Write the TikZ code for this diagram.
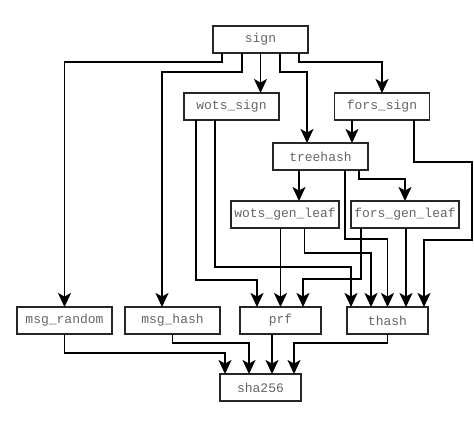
\documentclass[tikz,border=0pt]{standalone}
\usepackage{fontspec}
\setmonofont{Liberation Mono}
\usetikzlibrary{arrows.meta}
\usetikzlibrary{positioning}

\begin{document}
\begin{tikzpicture}[
x=1pt, y=1pt,
>={Stealth[length=14pt, width=13pt, inset=3.5pt]},
line width=1.9pt,
boxnode/.style={rectangle, draw=black!85, fill=white, line width=1.9pt, minimum width=95pt, minimum height=27pt, outer sep=0pt, inner sep=2pt, font=\ttfamily\fontsize{13}{15}\selectfont, text=black!60},
wideboxnode/.style={boxnode, minimum width=108pt},
smallboxnode/.style={boxnode, minimum width=81pt},
]
\useasboundingbox (-260.5,39.5) rectangle (213.5,-389.5);
%Nodes
\node[boxnode]      (sign_node)  at (0,0) {sign};
\node[boxnode]      (wots_sign_node)      [below=40pt of sign_node, xshift=-29pt] {wots\_sign};
\node[boxnode]      (fors_sign_node)      [below=40pt of sign_node, xshift=121.5pt] {fors\_sign};
\node[boxnode]      (treehash_node)       [below=23pt of fors_sign_node, xshift=-61.5pt] {treehash};
\node[wideboxnode]  (wots_gen_leaf_node)  [below=31pt of treehash_node, xshift=-35.5pt] {wots\_gen\_leaf};
\node[wideboxnode]  (fors_gen_leaf_node)  [right=12pt of wots_gen_leaf_node] {fors\_gen\_leaf};
\node[smallboxnode] (prf_node)            [below=79pt of wots_gen_leaf_node, xshift=-4.5pt] {prf};
\node[smallboxnode] (thash_node)          [right=26pt of prf_node] {thash};
\node[boxnode]      (msg_hash_node)       [left=20pt of prf_node] {msg\_hash};
\node[boxnode]      (msg_random_node)     [left=13pt of msg_hash_node] {msg\_random};
\node[smallboxnode] (sha256_node)         [below=40pt of prf_node, xshift=-20pt] {sha256};

%Lines from sign
\draw[->] ([xshift=-38.5pt]sign_node.south) -- ++(0,-9) -| (msg_random_node.north);
\draw[->] ([xshift=-18.5pt]sign_node.south) -- ++(0,-19) -| ([xshift=-10.5pt]msg_hash_node.north);
\draw[->] (sign_node.south) -- (sign_node.south |- wots_sign_node.north);
\draw[->] ([xshift=19.5pt]sign_node.south) -- ++(0,-19) -| ([xshift=-13.5pt]treehash_node.north);
\draw[->] ([xshift=38.5pt]sign_node.south) -- ++(0,-9) -| (fors_sign_node.north);

%Lines from wots_sign and fors_sign
\draw[->] ([xshift=-35.5pt]wots_sign_node.south) -- ++(0,-160) -| ([xshift=-23.5pt]prf_node.north);
\draw[->] ([xshift=-16.5pt]wots_sign_node.south) -- ++(0,-147) -| ([xshift=-36.5pt]thash_node.north);
\draw[->] ([xshift=-30pt]fors_sign_node.south) -- ([xshift=31.5pt]treehash_node.north);
\draw[->] ([xshift=32pt]fors_sign_node.south) |- ++(58,-42) -- ++(0,-78) -| ([xshift=36.5pt]thash_node.north);

%Lines from treehash
\draw[->] ([xshift=-21.5pt]treehash_node.south) -- ([xshift=14pt]wots_gen_leaf_node.north);
\draw[->] ([xshift=24.5pt]treehash_node.south) -- ++(0,-69) -| (thash_node.north);
\draw[->] ([xshift=38.5pt]treehash_node.south) -- ++(0,-9) -| (fors_gen_leaf_node.north);

%Lines from the leaves
\draw[->] (prf_node.north |- wots_gen_leaf_node.south) -- (prf_node.north);
\draw[->] ([xshift=19.5pt]wots_gen_leaf_node.south) -- ++(0,-25) -| ([xshift=-16.5pt]thash_node.north);
\draw[->] ([xshift=-44pt]fors_gen_leaf_node.south) -- ++(0,-51) -| ([xshift=22.5pt]prf_node.north);
\draw[->] ([xshift=1pt]fors_gen_leaf_node.south) -- ([xshift=18.5pt]thash_node.north);

%Lines to sha256
\draw[->] (msg_random_node.south) -- ++(0,-19) -| ([xshift=-35.5pt]sha256_node.north);
\draw[->] (msg_hash_node.south) -- ++(0,-9) -| ([xshift=-11.5pt]sha256_node.north);
\draw[->] ([xshift=-8.5pt]prf_node.south) -- ([xshift=11.5pt]sha256_node.north);
\draw[->] (thash_node.south) -- ++(0,-9) -| ([xshift=33.5pt]sha256_node.north);

\end{tikzpicture}
\end{document}
